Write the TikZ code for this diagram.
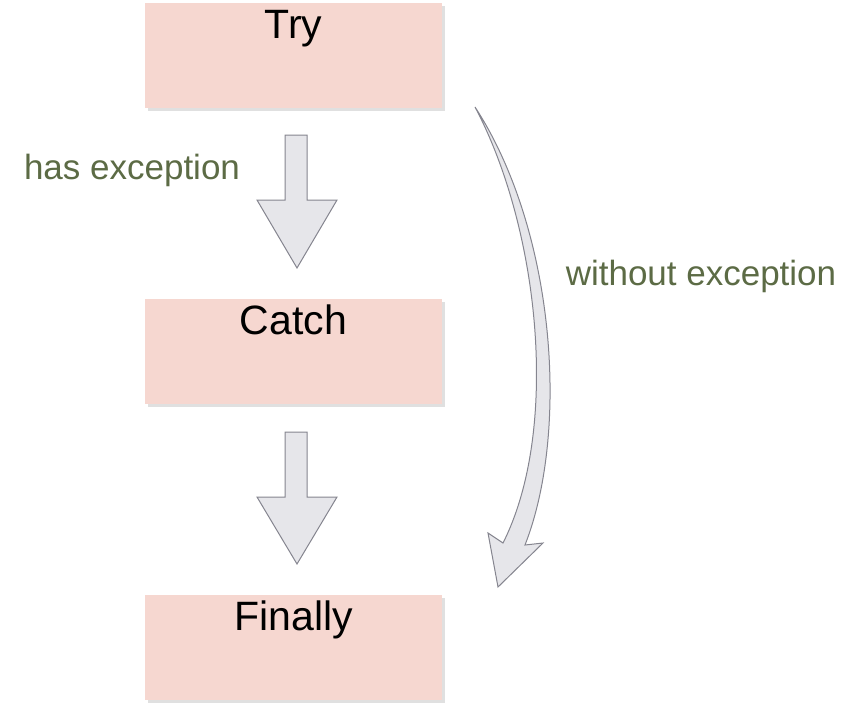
\documentclass[tikz,border=0pt]{standalone}
\usepackage{fontspec}
\setmainfont{Liberation Sans}
\usetikzlibrary{shadows}
\definecolor{boxfill}{HTML}{F6D7D0}
\definecolor{arrfill}{HTML}{E6E6EA}
\definecolor{arrline}{HTML}{85858F}
\definecolor{lbl}{HTML}{5C6B45}
\begin{document}
\begin{tikzpicture}[x=1pt,y=-1pt,
  box/.style={fill=boxfill,draw=none,minimum width=297pt,minimum height=105pt,inner sep=0pt,font=\fontsize{41}{48}\selectfont,
    text height=0pt,text depth=34pt,
    drop shadow={shadow xshift=3pt,shadow yshift=-3pt,fill=black!12,opacity=1}},
  barrow/.style={fill=arrfill,draw=arrline,line width=1pt,line join=miter},
  lab/.style={text=lbl,font=\fontsize{35}{40}\selectfont,inner sep=0pt}]
\useasboundingbox (0,0) rectangle (854,704);
\node[box] (try) at (293.5,55.5) {Try};
\node[box] (catch) at (293.5,351) {Catch};
\node[box] (fin) at (293.5,647.5) {Finally};
\draw[barrow] (285,135) -- (307,135) -- (307,200) -- (337,200) -- (297,268) -- (257,200) -- (285,200) -- cycle;
\draw[barrow] (285,432) -- (307,432) -- (307,497) -- (337,497) -- (297,564) -- (257,497) -- (285,497) -- cycle;
\coordinate (s) at (475,107);
\draw[barrow] (s) .. controls (555,230) and (570,430) .. (525,545) -- (543,543) -- (498,587) -- (488,533) -- (503,543) .. controls (560,430) and (540,230) .. (s) -- cycle;
\node[lab] (l1) at (132,170) {has exception};
\node[lab] (l2) at (701,276) {without exception};
\end{tikzpicture}
\end{document}
